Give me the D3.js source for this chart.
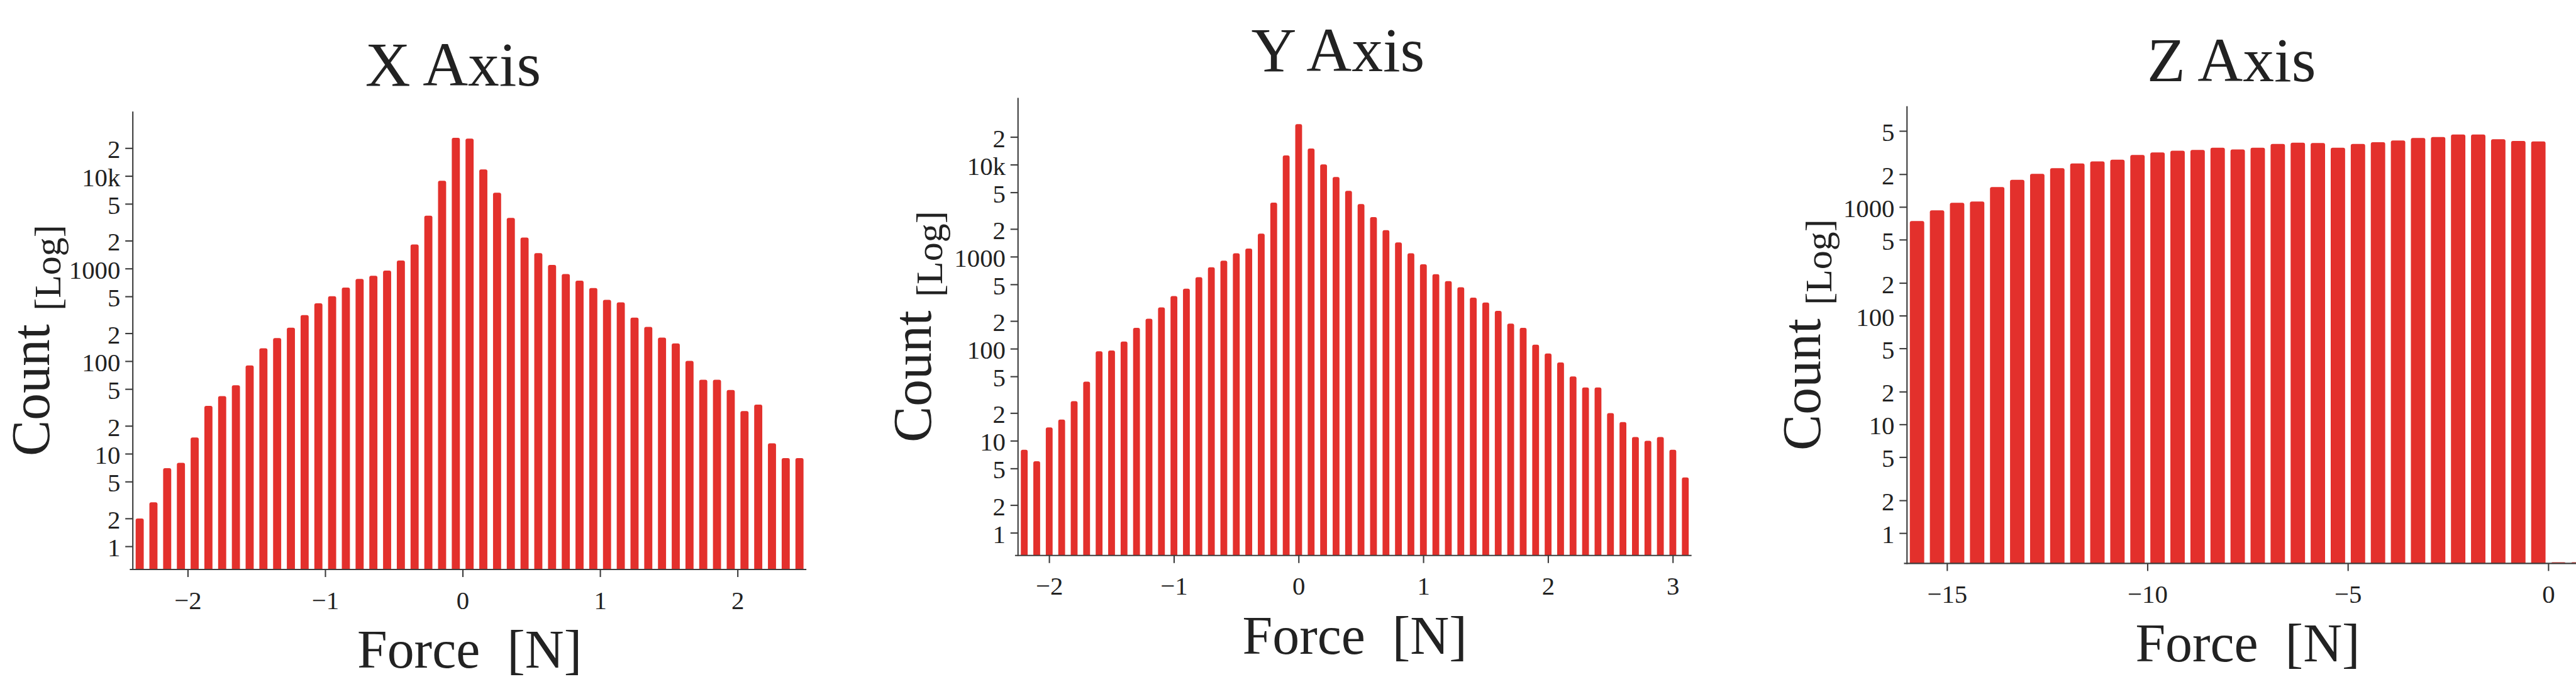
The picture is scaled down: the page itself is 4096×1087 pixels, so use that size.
<!DOCTYPE html>
<html>
<head>
<meta charset="utf-8">
<script src="https://cdn.jsdelivr.net/npm/d3@7"></script>
<style>
html,body{margin:0;padding:0;background:#fff;overflow:hidden}
text{font-family:"Liberation Serif","Times New Roman",serif}
</style>
</head>
<body>
<script>
// ---------------- DATA ----------------
const panelTitles = ["X Axis", "Y Axis", "Z Axis"];
const xAxisLabel = "Force  [N]";
const yAxisLabelMain = "Count";
const yAxisLabelSub = "[Log]";

// bin width [N] of each histogram
const binWidths = [0.1, 0.1, 0.5];

// X axis force histogram
const xForceBins = [-2.35,-2.25,-2.15,-2.05,-1.95,-1.85,-1.75,-1.65,-1.55,-1.45,-1.35,-1.25,-1.15,-1.05,-0.95,-0.85,-0.75,-0.65,-0.55,-0.45,-0.35,-0.25,-0.15,-0.05,0.05,0.15,0.25,0.35,0.45,0.55,0.65,0.75,0.85,0.95,1.05,1.15,1.25,1.35,1.45,1.55,1.65,1.75,1.85,1.95,2.05,2.15,2.25,2.35,2.45];
const xForceCounts = [2,3,7,8,15,33,42,55,90,138,178,230,315,423,503,624,775,836,952,1222,1824,3730,8880,25900,25400,11800,6620,3530,2170,1470,1096,874,743,618,461,432,296,235,180,156,101,63,63,49,29,34,13,9,9];

// Y axis force histogram
const yForceBins = [-2.2,-2.1,-2.0,-1.9,-1.8,-1.7,-1.6,-1.5,-1.4,-1.3,-1.2,-1.1,-1.0,-0.9,-0.8,-0.7,-0.6,-0.5,-0.4,-0.3,-0.2,-0.1,0,0.1,0.2,0.3,0.4,0.5,0.6,0.7,0.8,0.9,1.0,1.1,1.2,1.3,1.4,1.5,1.6,1.7,1.8,1.9,2.0,2.1,2.2,2.3,2.4,2.5,2.6,2.7,2.8,2.9,3.0,3.1];
const yForceCounts = [8,6,14,17,27,44,94,96,120,169,212,282,374,451,599,769,906,1091,1230,1782,3870,12600,27600,15000,10100,7370,5200,3740,2700,1945,1433,1091,830,646,543,466,359,318,258,188,169,111,89,71,50,38,38,20,16,11,10,11,8,4];

// Z axis force histogram
const zForceBins = [-15.75,-15.25,-14.75,-14.25,-13.75,-13.25,-12.75,-12.25,-11.75,-11.25,-10.75,-10.25,-9.75,-9.25,-8.75,-8.25,-7.75,-7.25,-6.75,-6.25,-5.75,-5.25,-4.75,-4.25,-3.75,-3.25,-2.75,-2.25,-1.75,-1.25,-0.75,-0.25,0.25,0.75];
const zForceCounts = [743,931,1094,1125,1528,1782,2022,2275,2512,2630,2723,3008,3176,3294,3353,3508,3383,3508,3805,3909,3874,3508,3805,3945,4090,4318,4397,4645,4645,4205,4055,4018,0,0];

// tick values / labels
const xTickValsX = [-2,-1,0,1,2];
const xTickLabelsX = ["\u22122","\u22121","0","1","2"];
const xTickValsY = [-2,-1,0,1,2,3];
const xTickLabelsY = ["\u22122","\u22121","0","1","2","3"];
const xTickValsZ = [-15,-10,-5,0];
const xTickLabelsZ = ["\u221215","\u221210","\u22125","0"];

const yTickValsXY = [1,2,5,10,20,50,100,200,500,1000,2000,5000,10000,20000];
const yTickLabelsXY = ["1","2","5","10","2","5","100","2","5","1000","2","5","10k","2"];
const yTickValsZ = [1,2,5,10,20,50,100,200,500,1000,2000,5000];
const yTickLabelsZ = ["1","2","5","10","2","5","100","2","5","1000","2","5"];

// ---------------- LAYOUT (reference pixel space) ----------------
const REF_W = 6827, REF_H = 1811;
const layout = [
  {box:{l:352,r:2137,t:295,b:1508}, yLog:[-0.249,4.697], titleX:1201, titleY:226, xLabY:1768, yLabX:130},
  {box:{l:2698,r:4483,t:259,b:1471}, yLog:[-0.246,4.726], titleX:3546, titleY:188, xLabY:1732, yLabX:2467},
  {box:{l:5054,r:6860,t:281,b:1492}, yLog:[-0.278,3.927], titleX:5914, titleY:214, xLabY:1752, yLabX:4824}
];
const series = [
  {bins:xForceBins, counts:xForceCounts, xt:xTickValsX, xl:xTickLabelsX, yt:yTickValsXY, yl:yTickLabelsXY},
  {bins:yForceBins, counts:yForceCounts, xt:xTickValsY, xl:xTickLabelsY, yt:yTickValsXY, yl:yTickLabelsXY},
  {bins:zForceBins, counts:zForceCounts, xt:xTickValsZ, xl:xTickLabelsZ, yt:yTickValsZ, yl:yTickLabelsZ}
];

const BAR_COLOR = "#e3302c";
const AXIS_COLOR = "#3c3c3c";
const TEXT_COLOR = "#222";
const BAR_GAP = 15;

const svg = d3.select("body").append("svg")
  .attr("width", 4096).attr("height", 1087)
  .attr("viewBox", `0 0 ${REF_W} ${REF_H}`);
svg.append("rect").attr("width", REF_W).attr("height", REF_H).attr("fill", "#fff");

function topRoundedBar(x, y, w, h, r) {
  r = Math.min(r, w/2, h);
  return `M${x},${y+h}V${y+r}Q${x},${y} ${x+r},${y}H${x+w-r}Q${x+w},${y} ${x+w},${y+r}V${y+h}Z`;
}

series.forEach((s, i) => {
  const L = layout[i], B = L.box, bw = binWidths[i];
  const g = svg.append("g");
  const xs = d3.scaleLinear()
    .domain([d3.min(s.bins) - bw/2, d3.max(s.bins) + bw/2])
    .range([B.l, B.r]);
  const ys = d3.scaleLog()
    .domain([Math.pow(10, L.yLog[0]), Math.pow(10, L.yLog[1])])
    .range([B.b, B.t]);

  // bars
  g.append("g").selectAll("path").data(s.bins.map((b, k) => ({b, c: s.counts[k]})))
    .join("path")
    .attr("fill", BAR_COLOR)
    .attr("d", d => {
      const x0 = xs(d.b - bw/2) + BAR_GAP/2;
      const w = xs(d.b + bw/2) - xs(d.b - bw/2) - BAR_GAP;
      const y = d.c > 0 ? Math.max(ys(d.c), B.t) : B.b - 3;
      return topRoundedBar(x0, y, w, B.b - y, 5);
    });

  // y axis
  const ya = g.append("g").attr("transform", `translate(${B.l},0)`)
    .call(d3.axisLeft(ys).tickValues(s.yt)
      .tickFormat(d => s.yl[s.yt.indexOf(d)])
      .tickSize(20).tickSizeOuter(0).tickPadding(13));
  // x axis
  const xa = g.append("g").attr("transform", `translate(0,${B.b})`)
    .call(d3.axisBottom(xs).tickValues(s.xt)
      .tickFormat(d => s.xl[s.xt.indexOf(d)])
      .tickSize(20).tickSizeOuter(0).tickPadding(36));
  [ya, xa].forEach(a => {
    a.select(".domain").attr("stroke", AXIS_COLOR).attr("stroke-width", 3.5);
    a.selectAll(".tick line").attr("stroke", AXIS_COLOR).attr("stroke-width", 3.5);
    a.selectAll(".tick text").attr("fill", TEXT_COLOR)
      .style("font-family", '"Liberation Serif", serif').style("font-size", "68px");
  });
  ya.selectAll(".tick text").attr("dy", "0.38em");
  ya.select(".domain").attr("d", `M0,${B.b + 1.75}V${B.t}`);
  xa.select(".domain").attr("d", `M${B.l - 8},0H${B.r}`);

  // title
  svg.append("text").attr("x", L.titleX).attr("y", L.titleY)
    .attr("text-anchor", "middle").attr("fill", TEXT_COLOR)
    .style("font-size", "166px").text(panelTitles[i]);

  // x label
  svg.append("text").attr("x", (B.l + B.r) / 2).attr("y", L.xLabY)
    .attr("text-anchor", "middle").attr("fill", TEXT_COLOR)
    .style("font-size", "143px").style("white-space", "pre")
    .attr("xml:space", "preserve").text(xAxisLabel);

  // y label
  const yl = svg.append("text")
    .attr("transform", `translate(${L.yLabX},${(B.t + B.b) / 2}) rotate(-90)`)
    .attr("text-anchor", "middle").attr("fill", TEXT_COLOR);
  yl.append("tspan").style("font-size", "143px").text(yAxisLabelMain + " ");
  yl.append("tspan").style("font-size", "100px").attr("dy", 30).text(yAxisLabelSub);
});
</script>
</body>
</html>
